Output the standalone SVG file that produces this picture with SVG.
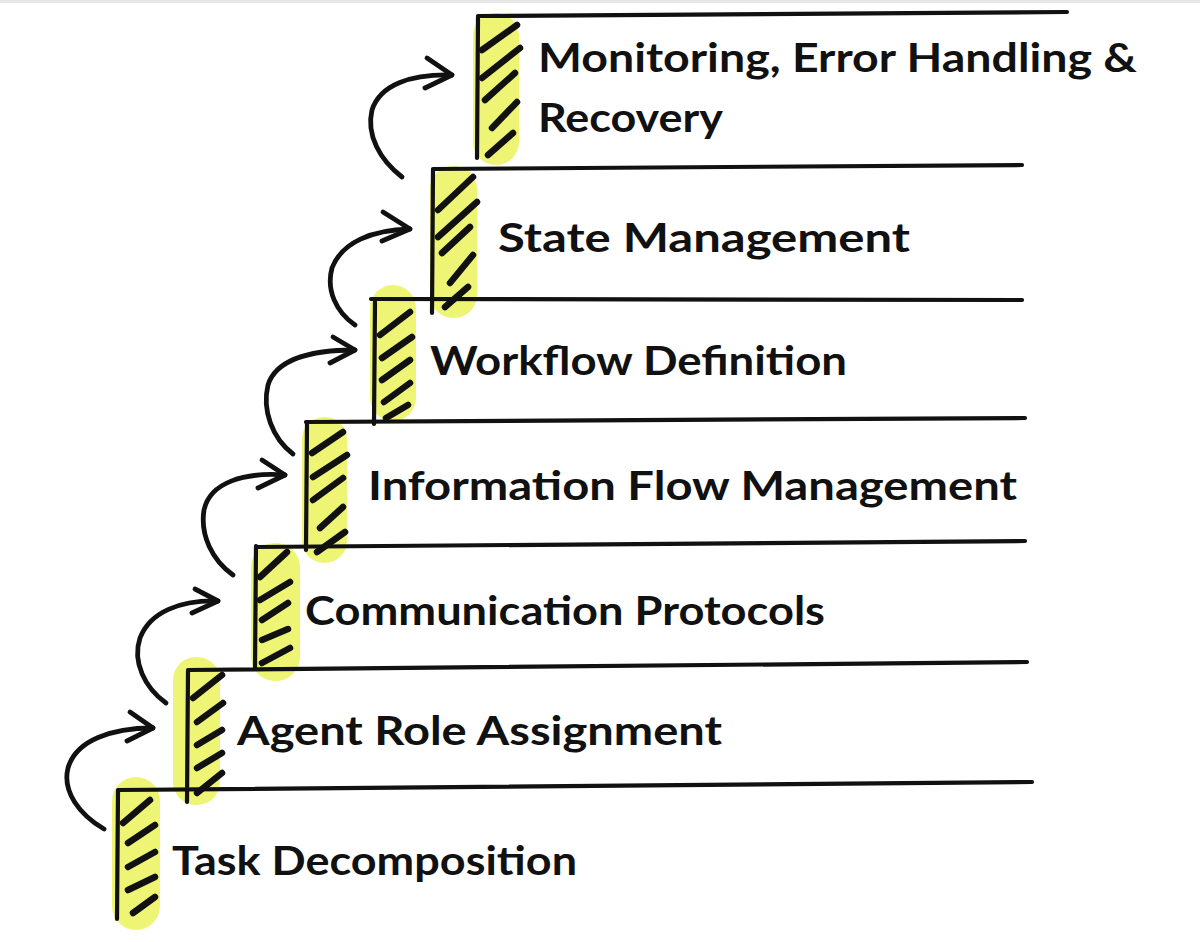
<svg xmlns="http://www.w3.org/2000/svg" width="1200" height="942" viewBox="0 0 1200 942">
<style>
.hl{fill:#eef574;}
.ln{stroke:#111;stroke-width:4.2;stroke-linecap:round;fill:none;}
.ht{stroke:#111;stroke-width:6.5;stroke-linecap:round;fill:none;}
.ar{stroke:#111;stroke-width:4.8;stroke-linecap:round;stroke-linejoin:round;fill:none;}
.tx{font-family:Lato,"Noto Sans",sans-serif;font-size:40px;font-weight:700;fill:#111;}
</style>
<rect x="0" y="0" width="1200" height="942" fill="#ffffff"/>
<rect x="0" y="0" width="1200" height="3" fill="#e6e6e6"/>

<g id="step7">
<rect class="hl" x="473" y="13" width="46" height="152" rx="23"/>
<path class="ln" d="M478,17 L477,158"/>
<path class="ln" d="M478,16 L1067,12"/>
<path class="ht" d="M482,50 L517,25 M482,78 L520,48 M485,100 L515,73 M492,128 L517,102 M488,155 L513,133"/>
<text class="tx" x="538" y="72" textLength="599" lengthAdjust="spacingAndGlyphs">Monitoring, Error Handling &amp;</text>
<text class="tx" x="538" y="132" textLength="185" lengthAdjust="spacingAndGlyphs">Recovery</text>
</g>

<g id="step6">
<rect class="hl" x="430" y="166" width="47" height="152" rx="23"/>
<path class="ln" d="M433,170 L432,313"/>
<path class="ln" d="M433,169 L1022,165"/>
<path class="ht" d="M438,210 L473,177 M438,237 L477,202 M442,253 L470,227 M450,283 L473,255 M445,307 L468,287"/>
<text class="tx" x="498" y="252" textLength="412" lengthAdjust="spacingAndGlyphs">State Management</text>
</g>

<g id="step5">
<rect class="hl" x="370" y="285" width="46" height="136" rx="23"/>
<path class="ln" d="M375,302 L374,424"/>
<path class="ln" d="M371,299 L1022,300"/>
<path class="ht" d="M380,335 L410,312 M382,358 L412,337 M382,380 L410,360 M384,402 L410,383 M386,418 L408,405"/>
<text class="tx" x="430" y="375" textLength="417" lengthAdjust="spacingAndGlyphs">Workflow Definition</text>
</g>

<g id="step4">
<rect class="hl" x="302" y="417" width="45" height="146" rx="22"/>
<path class="ln" d="M307,423 L306,550"/>
<path class="ln" d="M306,422 L1025,418"/>
<path class="ht" d="M312,453 L343,432 M313,477 L347,455 M313,500 L343,478 M320,528 L343,507 M317,552 L345,532"/>
<text class="tx" x="368" y="500" textLength="649" lengthAdjust="spacingAndGlyphs">Information Flow Management</text>
</g>

<g id="step3">
<rect class="hl" x="251" y="543" width="49" height="138" rx="24"/>
<path class="ln" d="M256,546 L255,667"/>
<path class="ln" d="M256,547 L1025,541"/>
<path class="ht" d="M260,577 L287,552 M260,600 L290,582 M262,620 L288,603 M262,640 L288,629 M262,663 L290,648"/>
<text class="tx" x="305" y="625" textLength="520" lengthAdjust="spacingAndGlyphs">Communication Protocols</text>
</g>

<g id="step2">
<rect class="hl" x="173" y="657" width="47" height="148" rx="23"/>
<path class="ln" d="M188,671 L187,802"/>
<path class="ln" d="M188,670 L1027,662"/>
<path class="ht" d="M193,698 L222,675 M197,722 L223,703 M197,745 L222,730 M197,768 L222,753 M197,793 L222,773"/>
<text class="tx" x="237" y="745" textLength="485" lengthAdjust="spacingAndGlyphs">Agent Role Assignment</text>
</g>

<g id="step1">
<rect class="hl" x="112" y="777" width="48" height="153" rx="24"/>
<path class="ln" d="M118,791 L117,919"/>
<path class="ln" d="M118,790 L1032,782"/>
<path class="ht" d="M123,823 L150,800 M128,843 L155,825 M128,867 L155,852 M128,890 L155,877 M133,913 L155,897"/>
<text class="tx" x="172" y="875" textLength="405" lengthAdjust="spacingAndGlyphs">Task Decomposition</text>
</g>

<g id="connectors">
<path class="ar" d="M104,829 C80,815 62,792 68,768 C76,740 112,728 153,728"/>
<path class="ar" d="M130,712 L153,728 L127,741"/>
<path class="ar" d="M166,703 C145,688 132,662 140,638 C150,612 180,600 218,601"/>
<path class="ar" d="M195,589 L218,601 L192,613"/>
<path class="ar" d="M233,575 C212,560 200,535 204,510 C210,482 245,472 285,475"/>
<path class="ar" d="M262,460 L285,475 L258,488"/>
<path class="ar" d="M293,454 C272,438 262,410 268,385 C276,360 310,350 355,350"/>
<path class="ar" d="M333,337 L355,350 L330,363"/>
<path class="ar" d="M355,325 C336,312 326,290 332,268 C342,242 372,230 410,229"/>
<path class="ar" d="M383,212 L410,229 L382,241"/>
<path class="ar" d="M402,177 C380,160 366,135 372,110 C380,85 410,74 452,75"/>
<path class="ar" d="M427,58 L452,75 L425,88"/>
</g>
</svg>
